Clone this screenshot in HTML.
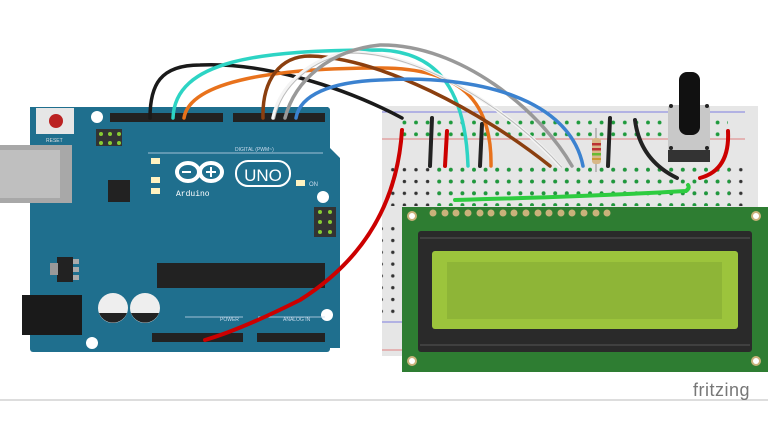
<!DOCTYPE html>
<html><head><meta charset="utf-8"><style>
html,body{margin:0;padding:0;background:#fff;width:768px;height:432px;overflow:hidden}
</style></head><body>
<svg width="768" height="432" viewBox="0 0 768 432" xmlns="http://www.w3.org/2000/svg" font-family="Liberation Sans, sans-serif">
<defs>
<pattern id="holes" x="387" y="0" width="11.6" height="11.8" patternUnits="userSpaceOnUse">
<circle cx="5.8" cy="4.5" r="1.7" fill="#333"/>
</pattern>
<pattern id="gholes" x="387" y="0" width="11.6" height="11.8" patternUnits="userSpaceOnUse">
<circle cx="5.8" cy="4.5" r="1.9" fill="#1e9a3c"/>
</pattern>
</defs>
<rect width="768" height="432" fill="#fff"/>
<!-- breadboard -->
<rect x="382" y="106" width="376" height="250" fill="#e6e6e6"/>
<line x1="382" y1="112" x2="745" y2="112" stroke="#7d7de0" stroke-width="1"/>
<line x1="382" y1="139" x2="745" y2="139" stroke="#e08080" stroke-width="1"/>
<line x1="382" y1="322" x2="745" y2="322" stroke="#7d7de0" stroke-width="1"/>
<line x1="382" y1="350" x2="745" y2="350" stroke="#e08080" stroke-width="1"/>
<rect x="398" y="113" width="330" height="24" fill="url(#gholes)"/>
<rect x="387" y="160" width="360" height="46" fill="url(#holes)"/>
<rect x="430" y="160" width="300" height="46" fill="url(#gholes)"/>
<rect x="382" y="225" width="24" height="95" fill="url(#holes)"/>
<!-- arduino -->
<rect x="0" y="145" width="72" height="58" fill="#a8a8a8"/>
<rect x="0" y="150" width="60" height="48" fill="#bdbdbd"/>
<path d="M30 107 H328 L330 120 V148 L340 158 V348 H30 Z" fill="#1f6f8e"/>
<rect x="30" y="107" width="300" height="245" rx="3" fill="#1f6f8e"/>
<rect x="0" y="145" width="72" height="58" fill="#a8a8a8"/>
<rect x="0" y="150" width="60" height="48" fill="#bfbfbf"/>
<rect x="36" y="108" width="38" height="26" fill="#e6e6e6"/>
<circle cx="56" cy="121" r="7" fill="#b22"/>
<text x="46" y="142" font-size="5" fill="#ddd">RESET</text>
<circle cx="97" cy="117" r="6" fill="#fff"/>
<circle cx="323" cy="197" r="6" fill="#fff"/>
<circle cx="92" cy="343" r="6" fill="#fff"/>
<circle cx="327" cy="315" r="6" fill="#fff"/>
<rect x="96" y="129" width="26" height="17" fill="#333"/>
<g fill="#8c3"><circle cx="101" cy="134" r="2"/><circle cx="110" cy="134" r="2"/><circle cx="119" cy="134" r="2"/><circle cx="101" cy="143" r="2"/><circle cx="110" cy="143" r="2"/><circle cx="119" cy="143" r="2"/></g>
<rect x="110" y="113" width="113" height="9" fill="#222"/>
<rect x="233" y="113" width="92" height="9" fill="#222"/>
<line x1="148" y1="153" x2="323" y2="153" stroke="#cde" stroke-width="0.8"/>
<text x="235" y="151" font-size="5" fill="#cde">DIGITAL (PWM~)</text>
<rect x="151" y="158" width="9" height="6" fill="#fff2c0"/>
<rect x="151" y="177" width="9" height="6" fill="#fff2c0"/>
<rect x="151" y="188" width="9" height="6" fill="#fff2c0"/>
<rect x="296" y="180" width="9" height="6" fill="#fff2c0"/>
<text x="309" y="186" font-size="6" fill="#cde">ON</text>
<rect x="108" y="180" width="22" height="22" fill="#222"/>
<g fill="none" stroke="#fff" stroke-width="4">
<ellipse cx="188" cy="172" rx="11" ry="9"/><ellipse cx="211" cy="172" rx="11" ry="9"/>
</g>
<rect x="182" y="171" width="9" height="2" fill="#fff"/><rect x="206" y="171" width="10" height="2" fill="#fff"/><rect x="210" y="167" width="2" height="10" fill="#fff"/>
<rect x="236" y="161" width="54" height="25" rx="12" fill="none" stroke="#fff" stroke-width="2"/>
<text x="263" y="181" font-size="17" fill="#fff" text-anchor="middle">UNO</text>
<text x="176" y="196" font-size="8" fill="#fff" font-family="Liberation Mono, monospace">Arduino</text>
<rect x="314" y="207" width="22" height="30" fill="#333"/>
<g fill="#8c3"><circle cx="320" cy="212" r="2"/><circle cx="330" cy="212" r="2"/><circle cx="320" cy="222" r="2"/><circle cx="330" cy="222" r="2"/><circle cx="320" cy="232" r="2"/><circle cx="330" cy="232" r="2"/></g>
<rect x="57" y="257" width="16" height="25" fill="#222"/>
<rect x="50" y="263" width="8" height="12" fill="#999"/>
<g fill="#aaa"><rect x="73" y="259" width="6" height="5"/><rect x="73" y="267" width="6" height="5"/><rect x="73" y="275" width="6" height="5"/></g>
<rect x="157" y="263" width="168" height="25" fill="#222"/>
<rect x="22" y="295" width="60" height="40" fill="#1a1a1a"/>
<circle cx="113" cy="308" r="15" fill="#eee"/><path d="M99 313 A15 15 0 0 0 127 313 Z" fill="#222"/>
<circle cx="145" cy="308" r="15" fill="#eee"/><path d="M131 313 A15 15 0 0 0 159 313 Z" fill="#222"/>
<line x1="185" y1="317" x2="243" y2="317" stroke="#cde" stroke-width="0.8"/>
<line x1="258" y1="317" x2="325" y2="317" stroke="#cde" stroke-width="0.8"/>
<text x="220" y="321" font-size="5" fill="#cde">POWER</text>
<text x="283" y="321" font-size="5" fill="#cde">ANALOG IN</text>
<rect x="152" y="333" width="91" height="9" fill="#222"/>
<rect x="257" y="333" width="68" height="9" fill="#222"/>
<!-- LCD -->
<rect x="402" y="207" width="366" height="165" fill="#2e7d32"/>
<g fill="#c9b27a"><circle cx="412" cy="216" r="5"/><circle cx="756" cy="216" r="5"/><circle cx="412" cy="361" r="5"/><circle cx="756" cy="361" r="5"/></g>
<g fill="#fff"><circle cx="412" cy="216" r="3"/><circle cx="756" cy="216" r="3"/><circle cx="412" cy="361" r="3"/><circle cx="756" cy="361" r="3"/></g>
<g fill="#c9b27a">
<circle cx="433" cy="213" r="3.5"/><circle cx="445" cy="213" r="3.5"/><circle cx="456" cy="213" r="3.5"/><circle cx="468" cy="213" r="3.5"/><circle cx="480" cy="213" r="3.5"/><circle cx="491" cy="213" r="3.5"/><circle cx="503" cy="213" r="3.5"/><circle cx="514" cy="213" r="3.5"/><circle cx="526" cy="213" r="3.5"/><circle cx="538" cy="213" r="3.5"/><circle cx="549" cy="213" r="3.5"/><circle cx="561" cy="213" r="3.5"/><circle cx="572" cy="213" r="3.5"/><circle cx="584" cy="213" r="3.5"/><circle cx="596" cy="213" r="3.5"/><circle cx="607" cy="213" r="3.5"/>
</g>
<rect x="418" y="231" width="334" height="121" rx="3" fill="#2a2a2a"/>
<line x1="420" y1="238" x2="750" y2="238" stroke="#555"/>
<line x1="420" y1="345" x2="750" y2="345" stroke="#555"/>
<rect x="432" y="251" width="306" height="78" rx="3" fill="#9cc43c"/>
<rect x="447" y="262" width="275" height="57" fill="#8eb537"/>
<!-- breadboard wires -->
<g fill="none" stroke-linecap="round" stroke-width="4">
<path d="M455 200 Q600 196 686 191 Q690 188 688 185" stroke="#2ecc40"/>
<path d="M432 118 L430 166" stroke="#222"/>
<path d="M447 131 L445 166" stroke="#c00"/>
<path d="M482 124 L480 166" stroke="#222"/>
<path d="M610 118 L608 166" stroke="#222"/>
<path d="M635 120 Q640 160 677 178" stroke="#222"/>
<path d="M728 131 Q730 170 700 178" stroke="#c00"/>
<path d="M402 130 Q395 240 300 300 Q240 330 205 340" stroke="#c00"/>
</g>
<!-- resistor -->
<line x1="596" y1="128" x2="596" y2="172" stroke="#aaa" stroke-width="1.5"/>
<rect x="592" y="138" width="9" height="26" rx="3" fill="#d8b888"/>
<rect x="592" y="143" width="9" height="2.5" fill="#b33"/><rect x="592" y="148" width="9" height="2.5" fill="#b33"/><rect x="592" y="153" width="9" height="2.5" fill="#6b3"/><rect x="592" y="158" width="9" height="2" fill="#c93"/>
<!-- pot -->
<rect x="668" y="105" width="42" height="55" rx="3" fill="#c8c8c8"/>
<rect x="668" y="150" width="42" height="12" fill="#333"/>
<rect x="679" y="72" width="21" height="63" rx="8" fill="#111"/>
<g fill="#222"><circle cx="671" cy="106" r="2"/><circle cx="707" cy="106" r="2"/><circle cx="671" cy="148" r="2"/><circle cx="707" cy="148" r="2"/></g>
<!-- arduino wires -->
<g fill="none" stroke-linecap="round" stroke-width="3.5">
<path d="M150 118 C150 85 160 65 200 65 C260 62 340 85 402 118" stroke="#1a1a1a"/>
<path d="M173 118 C175 60 260 50 380 50 C430 52 465 80 468 166" stroke="#2dd4c4"/>
<path d="M184 118 C190 80 280 68 380 68 C460 68 492 100 491 166" stroke="#e8721c"/>
<path d="M263 118 C262 80 280 56 310 56 C380 58 480 110 550 166" stroke="#8b3f0f"/>
<path d="M273 118 C280 85 310 58 350 52 C420 52 510 110 560 166" stroke="#f4f4f4"/>
<path d="M273 118 C280 85 310 58 350 52 C420 52 510 110 560 166" stroke="#bbb" stroke-width="1" transform="translate(1.5,1)"/>
<path d="M285 118 C295 80 330 50 380 45 C460 44 540 110 572 166" stroke="#999"/>
<path d="M296 118 C300 95 330 82 380 80 C480 74 570 100 583 166" stroke="#3b82d0"/>
</g>
<line x1="0" y1="400" x2="768" y2="400" stroke="#bbb" stroke-width="1"/>
<text x="693" y="396" font-size="18" fill="#777" letter-spacing="0.5">fritzing</text>
</svg>
</body></html>
